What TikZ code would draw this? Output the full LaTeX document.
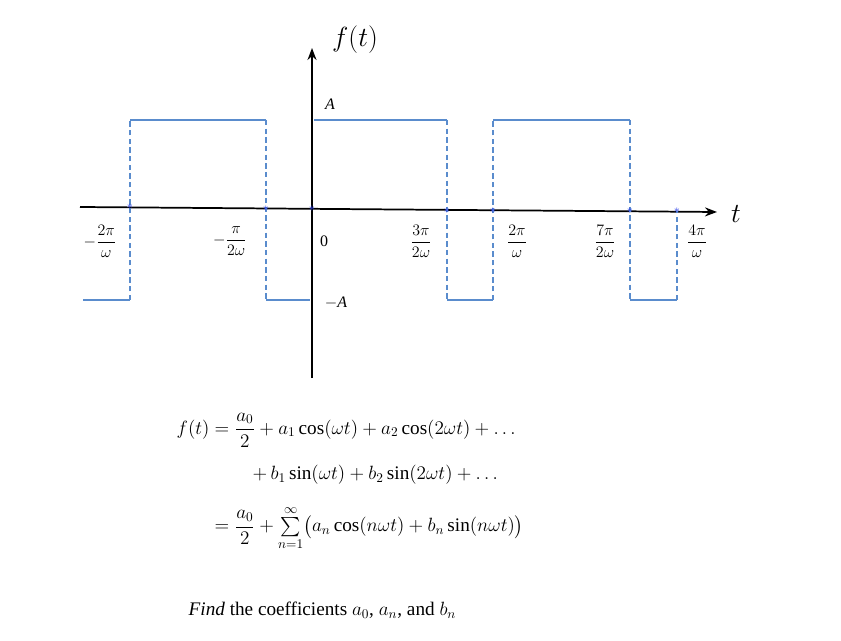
\documentclass[tikz,border=0pt]{standalone}
\usepackage{amsmath}
\usepackage{fontspec}
\setmainfont{Liberation Serif}
\usetikzlibrary{arrows.meta}
\definecolor{wave}{RGB}{90,140,205}
\definecolor{mk}{RGB}{40,60,230}
\begin{document}
\begin{tikzpicture}[x=0.75pt,y=-0.75pt,
  wv/.style={wave,line width=1.6pt},
  wd/.style={wave,line width=1.3pt,dash pattern=on 4pt off 2.5pt},
  lab/.style={font=\large},
  starmk/.style={text=mk,font=\small,inner sep=0pt}]
\useasboundingbox (0,0) rectangle (841,641);
% axes
\coordinate (xs) at (80,207); \coordinate (xe) at (717,212);
\draw[line width=1.3pt,-{Stealth[length=9pt]}] (xs) -- (xe);
\coordinate (ys) at (312,378); \coordinate (ye) at (312,48);
\draw[line width=1.3pt,-{Stealth[length=9pt]}] (ys) -- (ye);
\node[font=\huge\itshape] (ft) at (355,40) {$f(t)$};
\node[font=\huge\itshape] (tl) at (736,214) {$t$};
% wave
\draw[wv] (83,300) -- (130,300);
\draw[wd] (130,300) -- (130,120);
\draw[wv] (130,120) -- (266,120);
\draw[wd] (266,120) -- (266,300);
\draw[wv] (266,300) -- (310,300);
\draw[wv] (314,120) -- (447,120);
\draw[wd] (447,120) -- (447,300);
\draw[wv] (447,300) -- (493,300);
\draw[wd] (493,300) -- (493,120);
\draw[wv] (493,120) -- (630,120);
\draw[wd] (630,120) -- (630,300);
\draw[wv] (630,300) -- (677,300);
\draw[wd] (677,300) -- (677,211);
% markers
\foreach \px/\py [count=\i] in {130/207,266/209,312/209,447/211,493/211,630/211,677/211}
  \node[starmk] (m\i) at (\px,\py) {$\ast$};
% labels
\node[lab] (la) at (330,104) {\itshape A};
\node[lab] (lma) at (336,303) {$-$\itshape A};
\node[lab] (l0) at (324,241) {0};
\node[lab] (f1) at (100,241) {$-\dfrac{2\pi}{\omega}$};
\node[lab] (f2) at (230,241) {$-\dfrac{\pi}{2\omega}$};
\node[lab] (f3) at (421,241) {$\dfrac{3\pi}{2\omega}$};
\node[lab] (f4) at (517,241) {$\dfrac{2\pi}{\omega}$};
\node[lab] (f5) at (605,241) {$\dfrac{7\pi}{2\omega}$};
\node[lab] (f6) at (697,241) {$\dfrac{4\pi}{\omega}$};
% equations
\node[font=\Large,anchor=west] (e1) at (172,430) {$f(t)=\dfrac{a_0}{2}+a_1\cos(\omega t)+a_2\cos(2\omega t)+\ldots$};
\node[font=\Large,anchor=west] (e2) at (248,475) {$+\,b_1\sin(\omega t)+b_2\sin(2\omega t)+\ldots$};
\node[font=\Large,anchor=west] (e3) at (210,528) {$=\dfrac{a_0}{2}+\sum\limits_{n=1}^{\infty}\bigl(a_n\cos(n\omega t)+b_n\sin(n\omega t)\bigr)$};
\node[font=\Large,anchor=west] (e4) at (184,610) {\itshape Find \upshape the coefficients $a_0$, $a_n$, and $b_n$};
\end{tikzpicture}
\end{document}
